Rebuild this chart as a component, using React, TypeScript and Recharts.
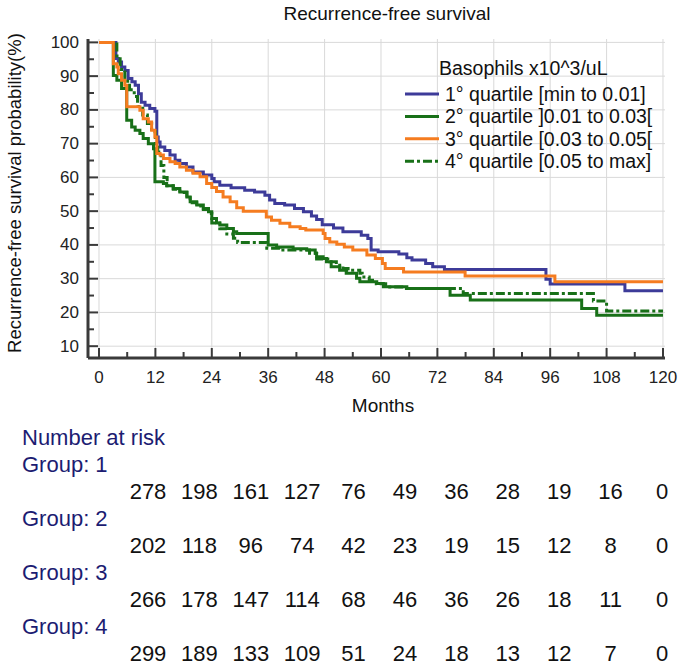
import React from 'react';
import { LineChart, Line, XAxis, YAxis, CartesianGrid, Legend } from 'recharts';

// ---- Data ----
const monthsG1 = [0, 3.6, 4.1, 4.8, 5.5, 6.2, 7, 7.7, 8.4, 9, 9.8, 10.8, 11.9, 12.3, 12.6, 13, 14, 15.1, 16.2, 17.2, 18.6, 20, 22.2, 24, 24.5, 25.7, 28.1, 31, 33.1, 35.3, 36.3, 37.4, 39.5, 41.6, 43.5, 45.2, 46.3, 47.5, 49.9, 51.9, 55.8, 57.2, 57.9, 59.4, 63.8, 65.5, 66.6, 69.5, 71, 73.5, 95.1, 96, 111.9, 120];
const survG1 = [100, 95.2, 94.2, 92.7, 91.7, 89.3, 88.3, 87.3, 84.8, 82.3, 81.4, 80.4, 79.6, 72, 70.5, 69, 68, 66.6, 65.1, 64.1, 63.1, 61.6, 60.7, 59.7, 58.7, 57.7, 56.9, 56.2, 55.7, 54.7, 53.3, 52.3, 51.8, 50.8, 49.8, 48.6, 47.5, 46, 45, 43.9, 42.9, 41.9, 38.5, 38, 37.3, 36.2, 35.5, 34.5, 33.5, 32.7, 29.8, 28.4, 26.4, 26.4];

const monthsG2 = [0, 3.05, 3.8, 4.8, 5.9, 6.95, 7.7, 8.7, 9.4, 10.5, 11.6, 11.9, 13.7, 14.4, 15.8, 17.2, 18.7, 19.4, 20.8, 22.2, 23.3, 24, 25, 25.7, 27.2, 28.6, 29.3, 36, 37.8, 41.3, 44.2, 46, 46.3, 47.7, 48.4, 49.4, 51.2, 52.6, 54.8, 55.5, 59.1, 60.5, 65.5, 74.7, 79, 102.7, 105.9, 120];
const survG2 = [100, 90.2, 88.8, 86.3, 76.9, 74.9, 74, 73, 71.5, 70, 68.5, 58.7, 58.2, 57.5, 56.7, 55.7, 54.2, 52.8, 51.8, 50.8, 49.8, 47.8, 46.5, 45.9, 44.9, 43.9, 43.4, 40, 39.4, 38.9, 38.5, 37.5, 36.5, 36, 35, 33.5, 32.5, 31.6, 30.1, 29.1, 28.6, 27.6, 27.1, 25.1, 23.7, 21.2, 19.2, 19.2];

const monthsG3 = [0, 3.05, 3.8, 4.1, 4.8, 5.5, 5.9, 8.7, 9.4, 10.5, 11.2, 11.9, 12.3, 13, 13.7, 15.1, 16.2, 17.2, 18.6, 20, 21.5, 22.9, 24, 25, 26.4, 27.9, 29.3, 30.7, 35.6, 36.7, 38.5, 40.6, 42.8, 44, 47.7, 48.1, 49.1, 50.6, 52.2, 54, 57, 58.8, 60.3, 60.9, 64.8, 77.9, 97, 120];
const survG3 = [100, 93.7, 92.7, 90.7, 88.8, 87.3, 80.9, 79.9, 77.4, 76.4, 74, 72, 67.1, 66.6, 65.6, 64.6, 64.1, 63.1, 62.1, 61.2, 60.2, 58.2, 57, 55.8, 54.2, 52.8, 51, 50, 48.3, 47.3, 46.4, 45.4, 44.9, 44.4, 43.4, 41.9, 40.9, 40.2, 39.4, 38.5, 37, 36, 34.5, 33, 32, 30.8, 29.1, 29.1];

const monthsG4 = [0, 3.8, 4.5, 5.5, 6.5, 7.5, 8.2, 9.3, 10.3, 11.2, 12, 12.5, 13.2, 13.8, 14.5, 15.8, 17.2, 18.7, 19.4, 20.8, 22.2, 23.3, 24, 25.7, 27.2, 28.6, 29.5, 35.7, 38.5, 44.8, 46.3, 49.1, 50.5, 51.9, 53, 55.5, 56, 57.5, 59, 61, 65, 77.5, 105.2, 108, 120];
const survG4 = [100, 96, 92, 88.5, 86, 84, 81, 78.5, 76, 73.5, 70, 67.5, 63.5, 60, 57.5, 56.5, 55.5, 54, 52.5, 51.5, 50.5, 49.3, 46.5, 44.8, 43.2, 42, 40.7, 39, 38.5, 37.5, 35.8, 35, 34, 33, 32.5, 31.6, 30.5, 29.5, 28.5, 27.5, 27.1, 25.6, 23.4, 20.4, 20.4];

const xTicks = [0, 6, 12, 18, 24, 30, 36, 42, 48, 54, 60, 66, 72, 78, 84, 90, 96, 102, 108, 114, 120];
const yTicks = [10, 15, 20, 25, 30, 35, 40, 45, 50, 55, 60, 65, 70, 75, 80, 85, 90, 95, 100];
const xGrid = [0, 12, 24, 36, 48, 60, 72, 84, 96, 108, 120];
const yGrid = [10, 20, 30, 40, 50, 60, 70, 80, 90, 100];

const seriesNames = ['1° quartile [min to 0.01]', '2° quartile ]0.01 to 0.03[', '3° quartile [0.03 to 0.05[', '4° quartile [0.05 to max]'];
const legendTitle = 'Basophils x10^3/uL';
const chartTitle = 'Recurrence-free survival';
const yLabel = 'Recurrence-free survival probability(%)';
const xLabel = 'Months';

const riskTitle = 'Number at risk';
const riskGroups = ['Group: 1', 'Group: 2', 'Group: 3', 'Group: 4'];
const riskG1 = [278, 198, 161, 127, 76, 49, 36, 28, 19, 16, 0];
const riskG2 = [202, 118, 96, 74, 42, 23, 19, 15, 12, 8, 0];
const riskG3 = [266, 178, 147, 114, 68, 46, 36, 26, 18, 11, 0];
const riskG4 = [299, 189, 133, 109, 51, 24, 18, 13, 12, 7, 0];

// ---- Styles ----
const FONT = '"Liberation Sans", Arial, Helvetica, sans-serif';
const AXIS = '#3a3a3a';
const BLUE = '#3d3b99';
const GREEN = '#187018';
const ORANGE = '#f57c20';
const NAVY = '#1c1c72';
const DASHDOT = '9 3 3 3';

const toData = (t: number[], s: number[]) => t.map((m, i) => ({ t: m, s: s[i] }));
const dataG1 = toData(monthsG1, survG1);
const dataG2 = toData(monthsG2, survG2);
const dataG3 = toData(monthsG3, survG3);
const dataG4 = toData(monthsG4, survG4);

const legendItems = [
  { name: seriesNames[0], color: BLUE, dash: undefined as string | undefined },
  { name: seriesNames[1], color: GREEN, dash: undefined as string | undefined },
  { name: seriesNames[2], color: ORANGE, dash: undefined as string | undefined },
  { name: seriesNames[3], color: GREEN, dash: DASHDOT },
];

const XTick = (props: any) => {
  const { x, y, payload } = props;
  const v = payload.value;
  const major = v % 12 === 0;
  return (
    <g>
      <line x1={x} x2={x} y1={y} y2={y - (major ? 10 : 6)} stroke={AXIS} strokeWidth={2} />
      {major && (
        <text x={x} y={y + 19} textAnchor="middle" dominantBaseline="central" fontSize={17} fill="#222" fontFamily={FONT}>
          {v}
        </text>
      )}
    </g>
  );
};

const YTick = (props: any) => {
  const { x, y, payload } = props;
  const v = payload.value;
  const major = v % 10 === 0;
  return (
    <g>
      <line x1={x} x2={x + (major ? 10 : 6)} y1={y} y2={y} stroke={AXIS} strokeWidth={2} />
      {major && (
        <text x={x - 9} y={y} textAnchor="end" dominantBaseline="central" fontSize={17} fill="#222" fontFamily={FONT}>
          {v}
        </text>
      )}
    </g>
  );
};

const LegendBox = () => (
  <svg width={285} height={125} style={{ display: 'block' }}>
    <text x={39} y={13} dominantBaseline="central" fontSize={19.5} fill="#111" fontFamily={FONT}>
      {legendTitle}
    </text>
    {legendItems.map((it, i) => {
      const cy = 39 + i * 22.4;
      return (
        <g key={it.name}>
          <line x1={5} x2={39} y1={cy} y2={cy} stroke={it.color} strokeWidth={3} strokeDasharray={it.dash} />
          <text x={45} y={cy} dominantBaseline="central" fontSize={19.5} fill="#111" fontFamily={FONT}>
            {it.name}
          </text>
        </g>
      );
    })}
  </svg>
);

export default function App() {
  const riskRows = [riskG1, riskG2, riskG3, riskG4];
  return (
    <div style={{ position: 'absolute', left: 0, top: 0, width: 685, height: 665, background: '#fff', fontFamily: FONT }}>
      <LineChart width={685} height={420} margin={{ top: 39, right: 20, bottom: 0, left: 0 }}>
        <CartesianGrid stroke="#d9d9d9" strokeWidth={1} horizontalValues={yGrid} verticalValues={xGrid} />
        <XAxis
          type="number"
          dataKey="t"
          domain={[-2.34, 120.43]}
          ticks={xTicks}
          interval={0}
          tick={(p: any) => <XTick {...p} />}
          tickLine={false}
          tickSize={0}
          tickMargin={0}
          axisLine={{ stroke: AXIS, strokeWidth: 3 }}
          height={62}
          allowDataOverflow
        />
        <YAxis
          type="number"
          domain={[6.5, 101]}
          ticks={yTicks}
          interval={0}
          tick={(p: any) => <YTick {...p} />}
          tickLine={false}
          tickSize={0}
          tickMargin={0}
          axisLine={{ stroke: AXIS, strokeWidth: 3 }}
          width={88}
          allowDataOverflow
        />
        <Legend
          layout="vertical"
          align="center"
          verticalAlign="middle"
          content={() => <LegendBox />}
          wrapperStyle={{ position: 'absolute', left: 400, top: 55, width: 285, height: 125 }}
        />
        <Line data={dataG1} dataKey="s" name={seriesNames[0]} type="stepAfter" stroke={BLUE} strokeWidth={3} dot={false} activeDot={false} isAnimationActive={false} />
        <Line data={dataG2} dataKey="s" name={seriesNames[1]} type="stepAfter" stroke={GREEN} strokeWidth={3} dot={false} activeDot={false} isAnimationActive={false} />
        <Line data={dataG4} dataKey="s" name={seriesNames[3]} type="stepAfter" stroke={GREEN} strokeWidth={3} strokeDasharray={DASHDOT} dot={false} activeDot={false} isAnimationActive={false} />
        <Line data={dataG3} dataKey="s" name={seriesNames[2]} type="stepAfter" stroke={ORANGE} strokeWidth={3} dot={false} activeDot={false} isAnimationActive={false} />
      </LineChart>
      <svg width={685} height={665} style={{ position: 'absolute', left: 0, top: 0, pointerEvents: 'none' }}>
        <text x={387} y={13} textAnchor="middle" dominantBaseline="central" fontSize={19} fill="#111" fontFamily={FONT}>
          {chartTitle}
        </text>
        <text transform="translate(14,193) rotate(-90)" textAnchor="middle" dominantBaseline="central" fontSize={18.5} fill="#111" fontFamily={FONT}>
          {yLabel}
        </text>
        <text x={383} y={405} textAnchor="middle" dominantBaseline="central" fontSize={19} fill="#111" fontFamily={FONT}>
          {xLabel}
        </text>
        <text x={22} y={437} dominantBaseline="central" fontSize={22} fill={NAVY} fontFamily={FONT}>
          {riskTitle}
        </text>
        {riskGroups.map((g, gi) => (
          <g key={g}>
            <text x={22} y={464 + gi * 54.2} dominantBaseline="central" fontSize={22} fill={NAVY} fontFamily={FONT}>
              {g}
            </text>
            {riskRows[gi].map((n, j) => (
              <text key={j} x={148 + j * 51.4} y={491 + gi * 54.2} textAnchor="middle" dominantBaseline="central" fontSize={22} fill="#111" fontFamily={FONT}>
                {n}
              </text>
            ))}
          </g>
        ))}
      </svg>
    </div>
  );
}
